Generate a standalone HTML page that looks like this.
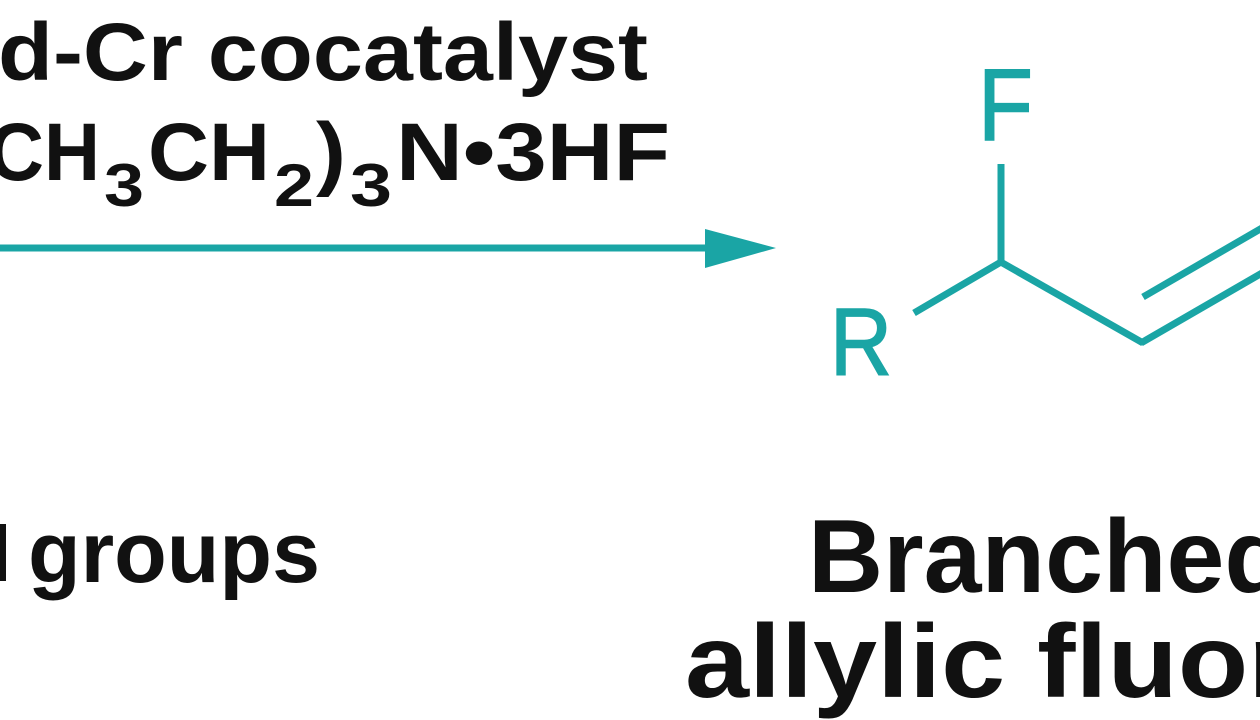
<!DOCTYPE html>
<html><head><meta charset="utf-8"><style>
html,body{margin:0;padding:0;background:#fff;width:1260px;height:720px;overflow:hidden}
svg{display:block}
.b{font-family:"Liberation Sans",sans-serif;font-weight:bold;fill:#111}
.t{font-family:"Liberation Sans",sans-serif;fill:#1aa5a5}
</style></head><body>
<svg width="1260" height="720" viewBox="0 0 1260 720">
<text class="b" x="-2" y="80" font-size="82" textLength="650" lengthAdjust="spacingAndGlyphs">d-Cr cocatalyst</text>
<text class="b" x="-12" y="180" font-size="82" textLength="112" lengthAdjust="spacingAndGlyphs">CH</text>
<text class="b" x="104" y="206" font-size="60" textLength="40" lengthAdjust="spacingAndGlyphs">3</text>
<text class="b" x="148" y="180" font-size="82" textLength="122" lengthAdjust="spacingAndGlyphs">CH</text>
<text class="b" x="274" y="206" font-size="60" textLength="40" lengthAdjust="spacingAndGlyphs">2</text>
<text class="b" x="316" y="180" font-size="82" textLength="30" lengthAdjust="spacingAndGlyphs">)</text>
<text class="b" x="350" y="206" font-size="60" textLength="42" lengthAdjust="spacingAndGlyphs">3</text>
<text class="b" x="396" y="180" font-size="82" textLength="274" lengthAdjust="spacingAndGlyphs">N•3HF</text>
<line x1="0" y1="248" x2="720" y2="248" stroke="#1aa5a5" stroke-width="7"/>
<polygon points="705,229 776,248 705,268" fill="#1aa5a5"/>
<text class="t" x="830" y="375" font-size="96" textLength="62" lengthAdjust="spacingAndGlyphs" stroke="#1aa5a5" stroke-width="1.5">R</text>
<text class="t" x="978" y="140" font-size="102" textLength="55" lengthAdjust="spacingAndGlyphs" stroke="#1aa5a5" stroke-width="1.5">F</text>
<g stroke="#1aa5a5" stroke-width="7" fill="none" stroke-linecap="butt">
<line x1="914" y1="313" x2="1001" y2="262"/>
<line x1="1001" y1="164" x2="1001" y2="264"/>
<line x1="999" y1="261" x2="1143" y2="343"/>
<line x1="1141" y1="343" x2="1262" y2="273"/>
<line x1="1143" y1="297" x2="1262" y2="228"/>
</g>
<rect x="0" y="524" width="6" height="57" fill="#111"/>
<text class="b" x="28" y="582" font-size="86" textLength="292" lengthAdjust="spacingAndGlyphs">groups</text>
<text class="b" x="808" y="592" font-size="104" textLength="480" lengthAdjust="spacingAndGlyphs">Branched</text>
<text class="b" x="685" y="697" font-size="104" textLength="640" lengthAdjust="spacingAndGlyphs">allylic fluori</text>
</svg>
</body></html>
